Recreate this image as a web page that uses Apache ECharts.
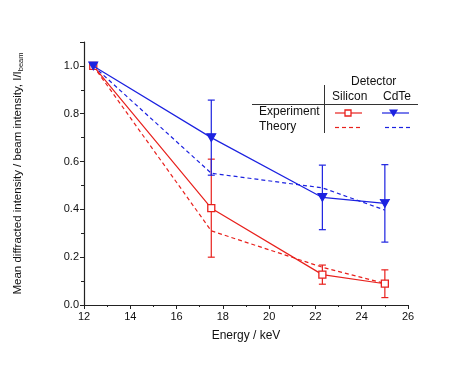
<!DOCTYPE html>
<html><head><meta charset="utf-8">
<script src="https://cdn.jsdelivr.net/npm/echarts@6/dist/echarts.min.js"></script>
<style>html,body{margin:0;padding:0;background:#fff}#c{width:474px;height:366px}</style>
</head><body><div id="c"></div>
<script>
const energy = [12.4, 17.5, 22.3, 25.0];
const siliconExp = [1.0, 0.405, 0.127, 0.089];
const siliconErr = [0, 0.205, 0.04, 0.058];
const cdteExp = [1.0, 0.70, 0.45, 0.425];
const cdteErr = [0, 0.157, 0.135, 0.162];
const siliconTheory = [1.0, 0.31, 0.158, 0.09];
const cdteTheory = [1.0, 0.551, 0.49, 0.397];

const RED = '#e8211d', BLUE = '#1c22e0';
const FONT = 'Liberation Sans, Arial, sans-serif';

function pts(ys){ return energy.map((x,i)=>[x, ys[i]]); }
function errData(ys, es){ return energy.map((x,i)=>[x, ys[i]-es[i], ys[i]+es[i]]).filter((d,i)=>es[i]>0); }
function errSeries(ys, es, color){
  return {
    type:'custom', data: errData(ys, es), z: 2,
    renderItem: function(params, api){
      const lo = api.coord([api.value(0), api.value(1)]);
      const hi = api.coord([api.value(0), api.value(2)]);
      const w = 3.5;
      const st = {stroke: color, lineWidth: 1.2, fill:null};
      return {type:'group', children:[
        {type:'line', shape:{x1:lo[0], y1:lo[1], x2:hi[0], y2:hi[1]}, style: st},
        {type:'line', shape:{x1:lo[0]-w, y1:lo[1], x2:lo[0]+w, y2:lo[1]}, style: st},
        {type:'line', shape:{x1:hi[0]-w, y1:hi[1], x2:hi[0]+w, y2:hi[1]}, style: st}
      ]};
    }
  };
}
function dashes(x1, x2, y, color){
  const out = [];
  for (let x = x1; x < x2; x += 7) {
    out.push({type:'line', shape:{x1:x, y1:y, x2:Math.min(x+4, x2), y2:y}, style:{stroke:color, lineWidth:1.2}});
  }
  return out;
}

const chart = echarts.init(document.getElementById('c'), null, {renderer:'canvas'});
const axisLine = {show:true, lineStyle:{color:'#222', width:1.2}};
chart.setOption({
  animation:false,
  backgroundColor:'#fff',
  textStyle:{fontFamily: FONT},
  grid:{left:84, right:66, top:42, bottom:61, containLabel:false},
  xAxis:{
    type:'value', min:12, max:26, interval:2,
    axisLine: axisLine,
    axisTick:{show:true, length:4, inside:false, lineStyle:{color:'#222'}},
    minorTick:{show:true, splitNumber:2, length:2, lineStyle:{color:'#222'}},
    splitLine:{show:false},
    axisLabel:{color:'#111', fontSize:11, fontFamily:FONT, margin:6},
    name:'Energy / keV', nameLocation:'middle', nameGap:25,
    nameTextStyle:{color:'#111', fontSize:12, fontFamily:FONT}
  },
  yAxis:{
    type:'value', min:0, max:1.1, interval:0.2,
    axisLine: axisLine,
    axisTick:{show:true, length:4, lineStyle:{color:'#222'}},
    minorTick:{show:true, splitNumber:2, length:3, lineStyle:{color:'#222'}},
    splitLine:{show:false},
    axisLabel:{color:'#111', fontSize:11, fontFamily:FONT, margin:5,
      formatter: v => (Math.abs(v-1.1)<1e-6 ? '' : v.toFixed(1))},
    name:'{a|Mean diffracted intensity / beam intensity, I/I}{s|beam}',
    nameLocation:'middle', nameGap:59, nameRotate:90,
    nameTextStyle:{color:'#111', fontSize:11.5, fontFamily:FONT,
      rich:{a:{fontSize:11.5, fontFamily:FONT, color:'#111'}, s:{fontSize:7.5, fontFamily:FONT, color:'#111', verticalAlign:'bottom', padding:[6,0,0,0]}}}
  },
  series:[
    {type:'line', data: pts(siliconTheory), symbol:'none', z:1,
      lineStyle:{color:RED, width:1.2, type:[4,3]}},
    {type:'line', data: pts(cdteTheory), symbol:'none', z:1,
      lineStyle:{color:BLUE, width:1.2, type:[4,3]}},
    errSeries(siliconExp, siliconErr, RED),
    errSeries(cdteExp, cdteErr, BLUE),
    {type:'line', data: pts(siliconExp), symbol:'rect', symbolSize:7, z:3,
      lineStyle:{color:RED, width:1.2},
      itemStyle:{color:'#fff', borderColor:RED, borderWidth:1.3}},
    {type:'line', data: pts(cdteExp), symbol:'triangle', symbolSize:[9,8], symbolRotate:180, z:4,
      lineStyle:{color:BLUE, width:1.2},
      itemStyle:{color:BLUE, borderColor:BLUE, borderWidth:1}}
  ],
  graphic:[
    {type:'text', left:351, top:76, style:{text:'Detector', font:'12px '+FONT, fill:'#111'}},
    {type:'text', left:332, top:91, style:{text:'Silicon', font:'12px '+FONT, fill:'#111'}},
    {type:'text', left:383, top:91, style:{text:'CdTe', font:'12px '+FONT, fill:'#111'}},
    {type:'line', shape:{x1:252, y1:104.5, x2:418, y2:104.5}, style:{stroke:'#333', lineWidth:1}},
    {type:'line', shape:{x1:324.5, y1:85, x2:324.5, y2:133}, style:{stroke:'#333', lineWidth:1}},
    {type:'text', left:259, top:106, style:{text:'Experiment', font:'12px '+FONT, fill:'#111'}},
    {type:'text', left:259, top:121, style:{text:'Theory', font:'12px '+FONT, fill:'#111'}},
    {type:'line', shape:{x1:335, y1:113, x2:362, y2:113}, style:{stroke:RED, lineWidth:1.2}},
    {type:'rect', shape:{x:345, y:110, width:6, height:6}, style:{fill:'#fff', stroke:RED, lineWidth:1.3}},
    {type:'line', shape:{x1:382, y1:113, x2:409, y2:113}, style:{stroke:BLUE, lineWidth:1.2}},
    {type:'polygon', shape:{points:[[389,109.5],[398,109.5],[393.5,117]]}, style:{fill:BLUE}}
  ].concat(dashes(335, 363, 127.5, RED), dashes(385, 412, 127.5, BLUE))
});
</script></body></html>
